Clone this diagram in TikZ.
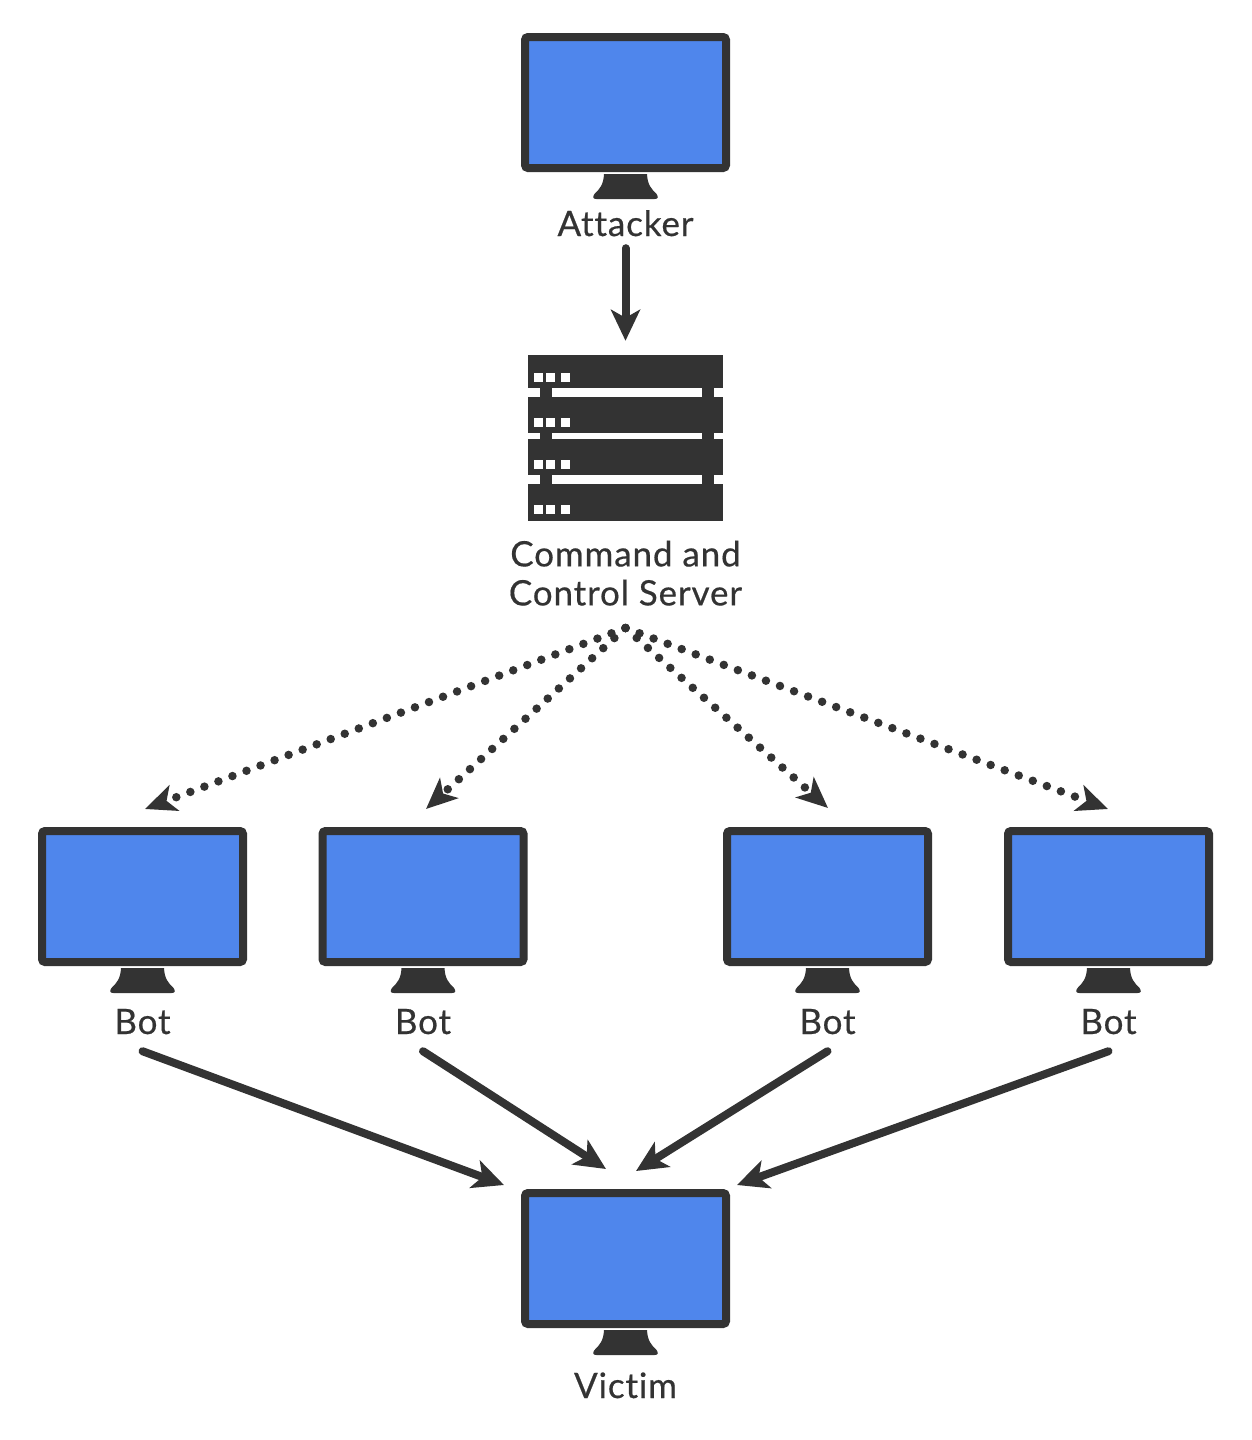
\documentclass[tikz,border=0pt]{standalone}
\usepackage{fontspec}
\setmainfont[LetterSpace=2.5,FakeBold=0.5,Ligatures=NoCommon]{Lato}
\usetikzlibrary{arrows.meta}
\definecolor{dark}{HTML}{333333}
\definecolor{screenblue}{HTML}{4F86EC}
\tikzset{
	screen/.style={draw=dark,fill=screenblue,line width=8pt,rounded corners=3pt,
		minimum width=201pt,minimum height=131pt,inner sep=0pt},
	caption/.style={text=dark,font=\fontsize{35}{39}\selectfont,inner sep=0pt,anchor=base,text depth=17pt},
	solidarrow/.style={draw=dark,line width=8pt,line cap=round,
		-{Stealth[length=31pt,width=29pt,inset=8pt]}},
	dotarrow/.style={draw=dark,line width=8.5pt,line cap=round,dash pattern=on 0pt off 15pt,
		-{Stealth[length=31pt,width=27pt,inset=8pt]}}
}
\newcommand{\monitor}[3]{
	\node[screen] (#1) at (#2,#3+69.5) {};
	\fill[dark] (#2-21.5,#3+141) -- (#2+21.5,#3+141)
		.. controls (#2+22,#3+152) and (#2+26,#3+156) .. (#2+31,#3+161)
		.. controls (#2+33,#3+164) and (#2+33,#3+166) .. (#2+29,#3+166)
		-- (#2-29,#3+166)
		.. controls (#2-33,#3+166) and (#2-33,#3+164) .. (#2-31,#3+161)
		.. controls (#2-26,#3+156) and (#2-22,#3+152) .. (#2-21.5,#3+141) -- cycle;
}
\begin{document}
\begin{tikzpicture}[x=1pt,y=-1pt]
	\useasboundingbox (0,0) rectangle (1251,1440);
	% attacker
	\monitor{attacker}{625.5}{33}
	\node[caption,text depth=12pt] (attackerlabel) at (625.5,236) {Attacker};
	% server
	\node[minimum width=196pt,minimum height=166pt,inner sep=0pt] (server) at (625.5,438) {};
	\foreach \top/\bottom in {355/388.3,397.3/433.3,439.3/475,484.3/521} {
		\fill[dark] (527.7,\top) rectangle (723.3,\bottom);
	}
	\fill[dark] (540,388) rectangle (552,485);
	\fill[dark] (702.3,388) rectangle (714.3,485);
	\foreach \y in {373.3,418.3,460.3,505.3} {
		\foreach \x in {534,546,561} {
			\fill[white] (\x,\y) rectangle (\x+9,\y+9);
		}
	}
	\node[caption,anchor=center,align=center,text depth=0pt] (serverlabel) at (625.5,573)
		{Command and\\Control Server};
	\coordinate (fan) at (625.5,628);
	% bots
	\foreach \i/\x/\tipx/\tipy/\hitx/\hity in {
		1/142.5/145/809/504/1185,
		2/423/426/809/606/1169,
		3/827.5/828/808/636/1171,
		4/1108.5/1108/809/737/1185} {
		\monitor{bot\i}{\x}{827}
		\node[caption] (botlabel\i) at (\x,1034) {Bot};
		\coordinate (drop\i) at (\tipx,\tipy);
		\coordinate (hit\i) at (\hitx,\hity);
		\draw[dotarrow] (fan) -- (drop\i);
		\draw[solidarrow] (botlabel\i.south) -- (hit\i);
	}
	% victim
	\monitor{victim}{625.5}{1189}
	\node[caption] (victimlabel) at (625.5,1398) {Victim};
	\draw[solidarrow,shorten >=14pt] (attackerlabel.south) -- (server.north);
\end{tikzpicture}
\end{document}
